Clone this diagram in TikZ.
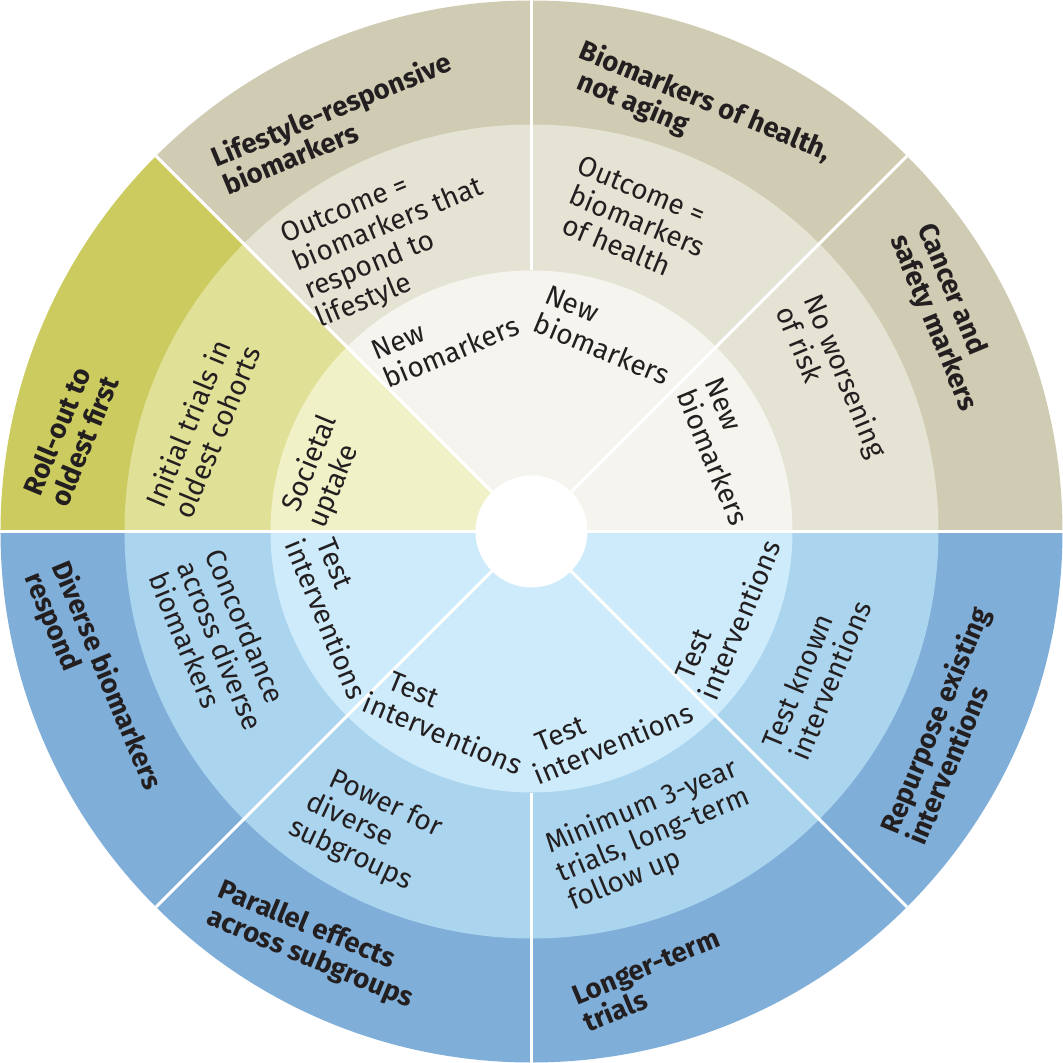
\documentclass[tikz,border=0pt]{standalone}
\usepackage{fontspec}
\setmainfont{Fira Sans}
\definecolor{begO}{HTML}{D0CCB3}
\definecolor{begM}{HTML}{E5E3D3}
\definecolor{begI}{HTML}{F5F4EE}
\definecolor{olvO}{HTML}{CCCB5F}
\definecolor{olvM}{HTML}{E1E097}
\definecolor{olvI}{HTML}{F1F1C8}
\definecolor{bluO}{HTML}{7FAED8}
\definecolor{bluM}{HTML}{ABD4EE}
\definecolor{bluI}{HTML}{CDEBFB}
\definecolor{txt}{HTML}{231F20}
\tikzset{
  lbl/.style={font=\fontsize{28}{30.5}\selectfont, text=txt, align=left, inner sep=0pt},
  blbl/.style={font=\fontsize{27.5}{29.5}\selectfont\bfseries, text=txt, align=left, inner sep=0pt},
  sep/.style={white, line width=3pt}
}
\begin{document}
\begin{tikzpicture}[x=1pt,y=1pt]
\useasboundingbox (-531.5,-531.5) rectangle (531.5,531.5);
% outer ring
\fill[begO] (0,0) -- (0:531) arc[start angle=0, end angle=135, radius=531] -- cycle;
\fill[olvO] (0,0) -- (135:531) arc[start angle=135, end angle=180, radius=531] -- cycle;
\fill[bluO] (0,0) -- (180:531) arc[start angle=180, end angle=360, radius=531] -- cycle;
% middle ring
\fill[begM] (0,0) -- (0:407) arc[start angle=0, end angle=135, radius=407] -- cycle;
\fill[olvM] (0,0) -- (135:407) arc[start angle=135, end angle=180, radius=407] -- cycle;
\fill[bluM] (0,0) -- (180:407) arc[start angle=180, end angle=360, radius=407] -- cycle;
% inner ring
\fill[begI] (0,0) -- (0:261) arc[start angle=0, end angle=135, radius=261] -- cycle;
\fill[olvI] (0,0) -- (135:261) arc[start angle=135, end angle=180, radius=261] -- cycle;
\fill[bluI] (0,0) -- (180:261) arc[start angle=180, end angle=360, radius=261] -- cycle;
% separators
\draw[sep] (180:531) -- (0:531);
\foreach \a in {45,135,225,315} \draw[sep] (\a:56) -- (\a:531);
\foreach \a in {90,270} \draw[sep] (\a:261) -- (\a:531);
% hole
\fill[white] (0,0) circle[radius=56];
% outer labels
\node[blbl, rotate=22.5] (o1) at (-195,409) {Lifestyle-responsive\\biomarkers};
\node[blbl, rotate=-22.5] (o2) at (168,416) {Biomarkers of health,\\\hspace*{10pt}not aging};
\node[blbl, rotate=-67.5] (o3) at (415,214) {Cancer and\\safety markers};
\node[blbl, rotate=67.5] (o4) at (-461,96) {Roll-out to\\oldest first};
\node[blbl, rotate=-67.5] (o5) at (-439,-150) {Diverse biomarkers\\respond};
\node[blbl, rotate=-22.5] (o6) at (-216,-414) {Parallel effects\\across subgroups};
\node[blbl, rotate=22.5] (o7) at (120,-449) {Longer-term\\trials};
\node[blbl, rotate=67.5] (o8) at (416,-194) {Repurpose existing\\interventions};
% middle labels
\node[lbl, rotate=22.5] (m1) at (-137,291) {Outcome =\\biomarkers that\\respond to\\lifestyle};
\node[lbl, rotate=-22.5] (m2) at (104,311) {Outcome =\\\hspace*{4pt}biomarkers\\\hspace*{9pt}of health};
\node[lbl, rotate=-67.5] (m3) at (301,150) {No worsening\\of risk};
\node[lbl, rotate=67.5] (m4) at (-329,105) {Initial trials in\\oldest cohorts};
\node[lbl, rotate=-67.5] (m5) at (-311,-114) {Concordance\\across diverse\\biomarkers};
\node[lbl, rotate=-25] (m6) at (-166,-297) {\hspace*{16pt}Power for\\\hspace*{5pt}diverse\\subgroups};
\node[lbl, rotate=22.5] (m7) at (122,-304) {Minimum 3-year\\trials, long-term\\follow up};
\node[lbl, rotate=67.5] (m8) at (285,-143) {Test known\\interventions};
% inner labels
\node[lbl, rotate=22.5] (i1) at (-86,193) {New\\biomarkers};
\node[lbl, rotate=-22.5] (i2) at (76,196) {New\\biomarkers};
\node[lbl, rotate=-67.5] (i3) at (195,80) {New\\biomarkers};
\node[lbl, rotate=67.5] (i4) at (-207,62) {Societal\\\hspace*{-5pt}uptake};
\node[lbl, rotate=-67.5] (i5) at (-192,-82) {\hspace*{11pt}Test\\interventions};
\node[lbl, rotate=-22.5] (i6) at (-83,-189) {\hspace*{15pt}Test\\interventions};
\node[lbl, rotate=22.5] (i7) at (76,-199) {\hspace*{14pt}Test\\interventions};
\node[lbl, rotate=67.5] (i8) at (195,-83) {\hspace*{10pt}Test\\interventions};
\end{tikzpicture}
\end{document}
